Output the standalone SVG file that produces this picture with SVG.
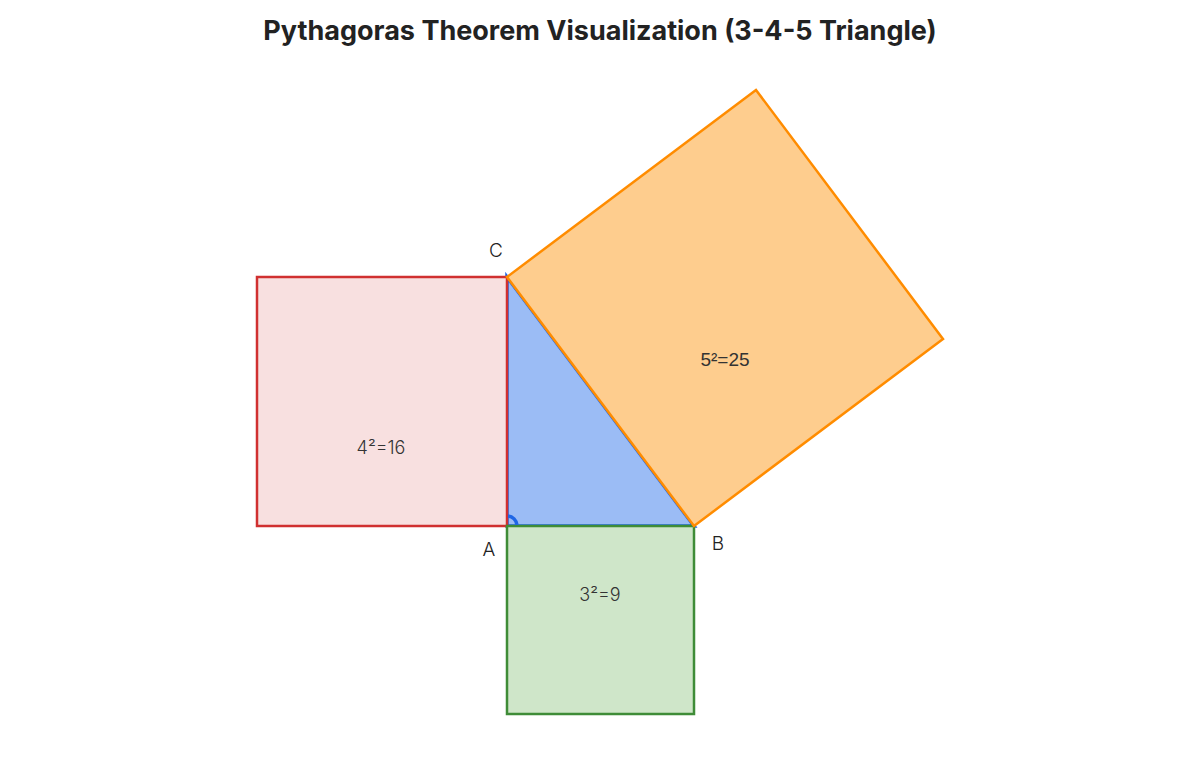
<svg xmlns="http://www.w3.org/2000/svg" width="1200" height="763" viewBox="0 0 1200 763">
  <style>
    .title { font-family: Inter, "Open Sans", "Liberation Sans", sans-serif; font-weight: 700; font-size: 27px; fill: #222222; }
    .vlabel { font-family: Inter, "Open Sans", "Liberation Sans", sans-serif; font-weight: 300; font-size: 19px; fill: #222222; }
    .area { font-family: Inter, "Open Sans", "Liberation Sans", sans-serif; font-weight: 300; font-size: 18px; fill: #333333; }
    .area2 { font-family: "Liberation Sans", Arial, sans-serif; font-size: 19px; fill: #333333; }
    .sq { stroke-width: 2.5; stroke-linejoin: miter; }
  </style>
  <rect x="0" y="0" width="1200" height="763" fill="#ffffff"/>
  <text class="title" x="600" y="40" text-anchor="middle">Pythagoras Theorem Visualization (3-4-5 Triangle)</text>

  <g id="triangle">
    <polygon points="507,526 694,526 507,277" fill="#9bbcf5" stroke="#1f66e5" stroke-width="3.5" stroke-linejoin="miter"/>
  </g>
  <g id="square-b">
    <rect class="sq" x="257" y="277" width="250" height="249" fill="#f8e0e0" stroke="#d03030"/>
    <text class="area" x="381" y="454" text-anchor="middle">4²=16</text>
  </g>
  <g id="square-a">
    <rect class="sq" x="507" y="526" width="187" height="188" fill="#cfe6c9" stroke="#3f8c37"/>
    <text class="area" x="600" y="601" text-anchor="middle">3²=9</text>
  </g>
  <g id="square-c">
    <polygon class="sq" points="507,277 694,526 943,339 756,90" fill="#fecd8e" stroke="#ff8c00"/>
    <text class="area2" x="725" y="366" text-anchor="middle">5²=25</text>
  </g>
  <g id="right-angle">
    <path d="M508,516 A10,10 0 0 1 517,525" fill="none" stroke="#1f66e5" stroke-width="3.5"/>
  </g>
  <g id="labels">
    <text class="vlabel" x="496" y="257" text-anchor="middle">C</text>
    <text class="vlabel" x="489" y="556" text-anchor="middle">A</text>
    <text class="vlabel" x="718" y="550" text-anchor="middle">B</text>
  </g>
</svg>
